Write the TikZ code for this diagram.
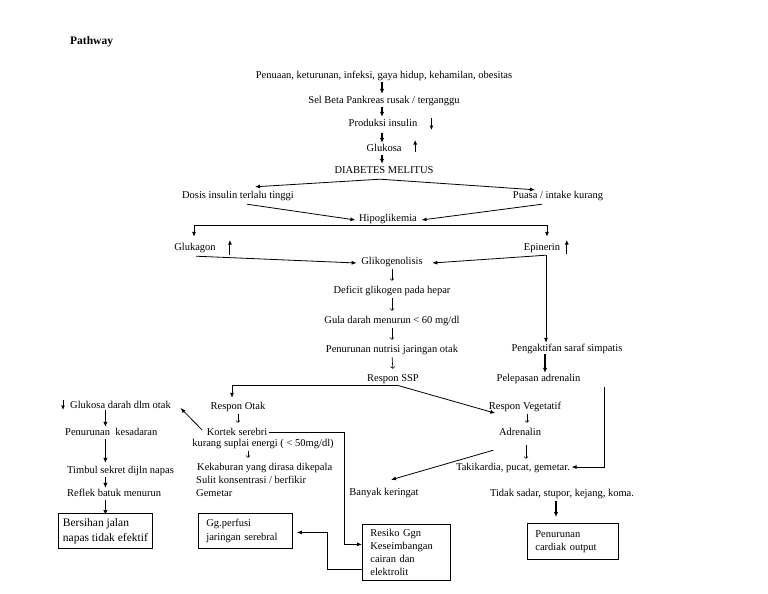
\documentclass[tikz,border=0pt]{standalone}
\usepackage{fontspec}
\setmainfont{Liberation Serif}
\usetikzlibrary{calc,arrows.meta}
\begin{document}
\begin{tikzpicture}[x=1pt,y=-1pt,
  txt/.style={inner sep=1.5pt, text height=7pt, text depth=0pt, font=\fontsize{10.5}{12.6}\selectfont},
  arr/.style={line width=0.8pt, -{Latex[length=5pt,width=4pt]}},
  thk/.style={line width=1.1pt, -{Latex[length=5pt,width=4.5pt]}},
  ind/.style={line width=1pt, -{Latex[length=4.5pt,width=4pt]}},
  thn/.style={line width=0.6pt, -{To[length=2.5pt,width=4.5pt]}, shorten <=3pt, shorten >=4pt},
  box/.style={draw, line width=0.8pt, anchor=north west, align=left, inner ysep=2pt}
]
\fill[white] (0,0) rectangle (768,594);
\useasboundingbox (0,0) rectangle (768,594);

% title
\node[anchor=west, inner sep=0pt, text height=8pt, text depth=0pt, font=\fontsize{11.5}{14}\selectfont\bfseries] (title) at (70,41) {Pathway};

% top chain
\node[txt] (n1) at (384,75) {Penuaan, keturunan, infeksi, gaya hidup, kehamilan, obesitas};
\node[txt] (n2) at (384,100) {Sel Beta Pankreas rusak / terganggu};
\node[txt] (n3) at (383,123) {Produksi insulin};
\node[txt] (n4) at (384,148) {Glukosa};
\node[txt] (dm) at (384,170) {DIABETES MELITUS};
\node[txt] (dosis) at (238,195) {Dosis insulin terlalu tinggi};
\node[txt] (puasa) at (558,195) {Puasa / intake kurang};
\node[txt] (hipo) at (388,218) {Hipoglikemia};
\node[txt] (glukagon) at (195,247) {Glukagon};
\node[txt] (epin) at (542,247) {Epinerin};
\node[txt] (gliko) at (392,261) {Glikogenolisis};
\node[txt] (deficit) at (392,290) {Deficit glikogen pada hepar};
\node[txt] (gula) at (392,320) {Gula darah menurun < 60 mg/dl};
\node[txt] (nutrisi) at (392,349) {Penurunan nutrisi jaringan otak};
\node[txt] (ssp) at (393,378) {Respon SSP};
\node[txt] (peng) at (567,348) {Pengaktifan saraf simpatis};
\node[txt] (pel) at (538.5,378) {Pelepasan adrenalin};
\node[txt] (otak) at (238,406) {Respon Otak};
\node[txt] (veg) at (525,406) {Respon Vegetatif};
\node[txt] (kortek) at (237,432) {Kortek serebri};
\node[txt] (adr) at (520,432) {Adrenalin};
\node[txt] (kurang) at (263,443) {kurang suplai energi ( < 50mg/dl)};
\node[txt, anchor=west] (kek) at (195.5,467) {Kekaburan yang dirasa dikepala};
\node[txt, anchor=west] (sulit) at (194.5,480) {Sulit konsentrasi / berfikir};
\node[txt, anchor=west] (gemetar) at (194.5,493) {Gemetar};
\node[txt] (banyak) at (384,492) {Banyak keringat};
\node[txt] (tak) at (513,467) {Takikardia, pucat, gemetar.};
\node[txt] (tidak) at (562,493) {Tidak sadar, stupor, kejang, koma.};

% left column
\node[txt, anchor=west] (gdo) at (68.5,405) {Glukosa darah dlm otak};
\node[txt, anchor=west] (pk) at (63.5,432) {Penurunan\ \ kesadaran};
\node[txt, anchor=west] (timbul) at (65.5,470) {Timbul sekret dijln napas};
\node[txt, anchor=west] (reflek) at (65.5,493) {Reflek batuk menurun};

% boxes
\node[box, minimum width=94pt, minimum height=35pt, inner xsep=2pt, font=\fontsize{11.5}{15}\selectfont] (bx) at (58,513) {Bersihan jalan\\napas tidak efektif};
\node[box, minimum width=94pt, minimum height=35pt, text width=78pt, inner xsep=8pt, font=\fontsize{10.5}{14}\selectfont] (gg) at (198,513) {Gg.perfusi\\jaringan serebral};
\node[box, minimum width=88pt, minimum height=56pt, text width=72pt, inner xsep=8pt, font=\fontsize{10.5}{13}\selectfont] (resiko) at (362,524) {Resiko Ggn\\Keseimbangan\\cairan dan\\elektrolit};
\node[box, minimum width=91pt, minimum height=36pt, text width=75pt, inner xsep=8pt, font=\fontsize{10.5}{13}\selectfont] (card) at (527,523) {Penurunan\\cardiak output};

% top chain arrows
\draw[thk, shorten <=2pt, shorten >=1pt] ($(n1.south)+(-2,0)$) -- ($(n2.north)+(-2,0)$);
\draw[thk, shorten <=2pt, shorten >=1pt] ($(n2.south)+(-2,0)$) -- ($(n3.north)+(-1,0)$);
\draw[thk, shorten <=4pt] ($(n3.south)+(-1,1)$) -- ($(n4.north)+(-2,0)$);
\draw[thk, shorten <=2pt, shorten >=1pt] ($(n4.south)+(-2,0)$) -- ($(dm.north)+(-2,0)$);

% indicator arrows
\draw[ind] ($(n3.east)+(12.5,-5)$) -- ++(0,12);
\draw[ind] ($(n4.east)+(12,4)$) -- ++(0,-12);
\draw[ind] ($(glukagon.east)+(12.5,8)$) -- ++(0,-15);
\draw[ind] ($(epin.east)+(5,7)$) -- ++(0,-14);
\draw[ind] ($(gdo.west)+(-5.5,-5)$) -- ++(0,10);

% DM split
\coordinate (apex) at ($(dm.south)+(-4,4)$);
\draw[arr] (apex) -- ($(dosis.north)+(17,-3)$);
\draw[arr] (apex) -- ($(puasa.north)+(-23,0)$);
\draw[arr] ($(dosis.south)+(9,4)$) -- ($(hipo.west)+(-2,2)$);
\draw[arr] ($(puasa.south)+(-16,4)$) -- ($(hipo.east)+(3,2)$);

% hipo split
\coordinate (hb) at ($(hipo.south)+(0,2)$);
\draw[arr, shorten >=5pt] (hb) -| ($(glukagon.north)+(-1,0)$);
\draw[arr, shorten >=5pt] (hb) -| ($(epin.north)+(5,0)$);

% to glikogenolisis
\draw[arr] ($(glukagon.south)+(1,4)$) -- ($(gliko.west)+(-3,2)$);
\coordinate (es) at ($(epin.south)+(4,3)$);
\draw[arr] (es) -- ($(gliko.east)+(8,2)$);
\draw[arr] (es) -- (es |- peng.north);

% central chain
\draw[thn] (gliko.south) -- (deficit.north);
\draw[thn] (deficit.south) -- (gula.north);
\draw[thn] (gula.south) -- (nutrisi.north);
\draw[thn] (nutrisi.south) -- (ssp.north);

% SSP split
\coordinate (sb) at ($(ssp.south)+(4,2)$);
\draw[arr, shorten >=3pt] (sb) -| ($(otak.north)+(-6,0)$);
\draw[arr] (sb) -- ($(veg.south west)+(8,2)$);

% otak side
\draw[thn] (otak.south) -- (otak.south |- kortek.north);
\draw[arr] ($(kortek.west)+(-3,-2)$) -- ($(gdo.east)+(8,3)$);
\draw[arr] (kortek.east) -- ++(75.5,0) |- ($(resiko.west)+(0,-8)$);
\coordinate (ka) at ($(kurang.south)+(-15,0)$);
\draw[thn] (ka) -- (ka |- kek.north);
\draw[arr, shorten >=4pt] ($(resiko.west)+(0,17)$) -- ++(-35,0) |- ($(gg.east)+(0,1.5)$);

% vegetatif side
\coordinate (va) at ($(veg.south)+(2,0)$);
\draw[thn] (va) -- (va |- adr.north);
\coordinate (at1) at ($(adr.south)+(6,8)$);
\draw[thn, shorten <=0pt, shorten >=3pt] (at1) -- (at1 |- tak.north);
\draw[arr] ($(adr.south west)+(-4,13)$) -- ($(banyak.north)+(7,-7)$);

% simpatis side
\coordinate (pp) at ($(peng.south)+(-22,1)$);
\draw[thk] (pp) -- (pp |- pel.north);
\draw[arr] ($(pel.south east)+(22,4)$) |- (tak.east);
\coordinate (tc) at ($(tidak.south)+(-6,3)$);
\draw[thk, shorten >=6pt] (tc) -- (tc |- card.north);

% left column arrows
\draw[thk] (gdo.south -| bx.north) -- (pk.north -| bx.north);
\draw[thk] ($(pk.south -| bx.north)+(0,2)$) -- ($(timbul.north -| bx.north)+(0,-2)$);
\draw[thk] ($(timbul.south -| bx.north)+(0,2)$) -- (reflek.north -| bx.north);
\draw[thk] ($(reflek.south -| bx.north)+(0,2)$) -- ($(bx.north)+(0,2)$);
\end{tikzpicture}
\end{document}
